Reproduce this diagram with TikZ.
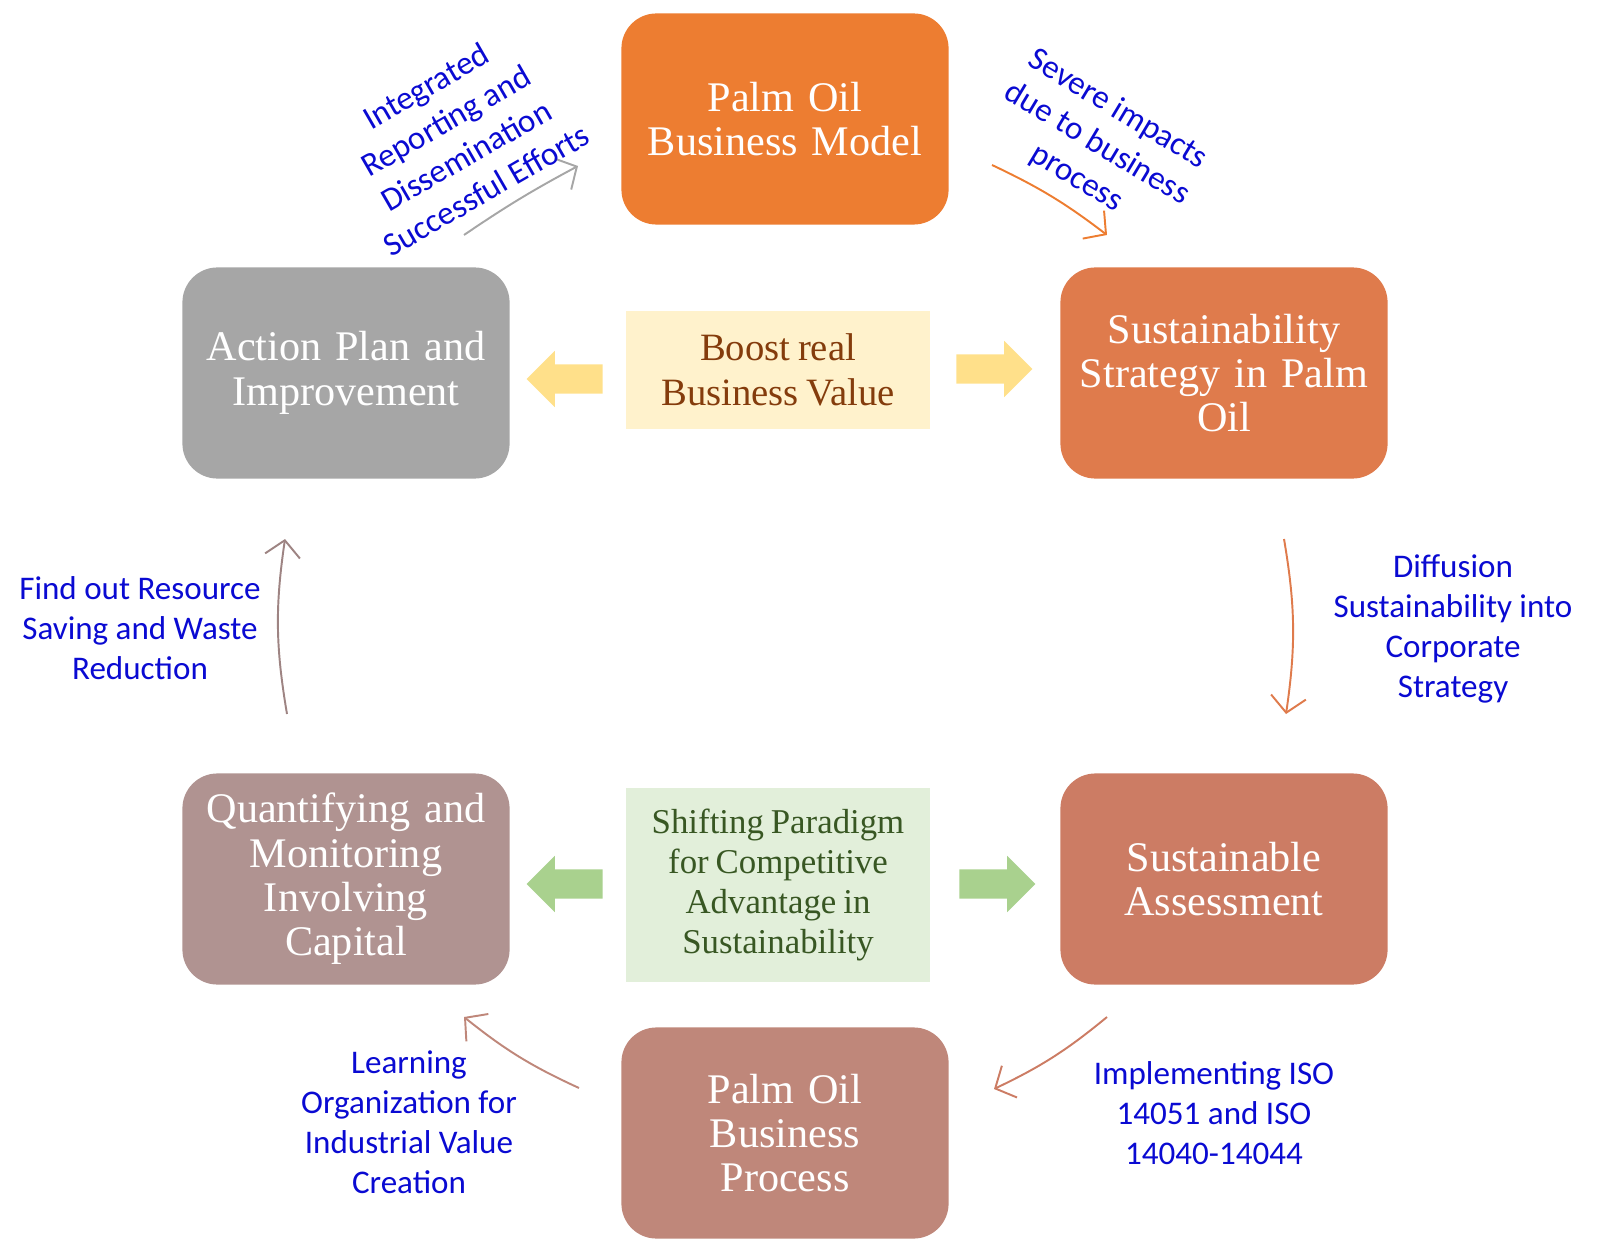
\documentclass[tikz,border=0pt]{standalone}
\usepackage{fontspec}
\setmainfont[WordSpace=0.8]{Liberation Serif}
\newfontfamily\labelfont{Carlito}
\usetikzlibrary{arrows.meta,shapes.arrows}
\definecolor{modelorange}{HTML}{ED7D31}
\definecolor{strategyorange}{HTML}{DF7B4C}
\definecolor{assesscolor}{HTML}{CC7C64}
\definecolor{processcolor}{HTML}{BF877A}
\definecolor{quantcolor}{HTML}{B09391}
\definecolor{actiongray}{HTML}{A6A6A6}
\definecolor{boostfill}{HTML}{FFF2CC}
\definecolor{boosttext}{HTML}{843C0C}
\definecolor{shiftfill}{HTML}{E2EFDA}
\definecolor{shifttext}{HTML}{385723}
\definecolor{fatyellow}{HTML}{FFE08A}
\definecolor{fatgreen}{HTML}{A9D18E}
\definecolor{noteblue}{RGB}{10,10,210}
\begin{document}
\begin{tikzpicture}[x=0.01cm,y=-0.01cm,
    stage/.style={rounded corners=0.35cm, minimum width=3.27cm, minimum height=2.11cm,
      text width=3.1cm, align=center, text=white, inner sep=0pt,
      font=\fontsize{12}{12.6}\selectfont},
    core/.style={minimum width=3.03cm, align=center, inner sep=0pt},
    note/.style={text=noteblue, align=center, inner sep=0pt,
      font=\labelfont\fontsize{9.4}{11.4}\selectfont},
    flow/.style={-{Straight Barb[length=4.5pt,width=10pt]}, line width=0.55pt},
    fat/.style={single arrow, draw=none, minimum height=0.76cm, inner sep=0.14cm,
      single arrow head extend=0.135cm}]
  \useasboundingbox (0,0) rectangle (1600,1258);

  % six stages of the cycle
  \node[stage, fill=modelorange] (model) at (785,119) {Palm Oil\\Business Model};
  \node[stage, fill=strategyorange] (strategy) at (1224,373) {Sustainability\\Strategy in Palm\\Oil};
  \node[stage, fill=assesscolor] (assess) at (1224,879) {Sustainable\\Assessment};
  \node[stage, fill=processcolor] (process) at (785,1133) {Palm Oil\\Business\\Process};
  \node[stage, fill=quantcolor] (quant) at (346,879) {Quantifying and\\Monitoring\\Involving\\Capital};
  \node[stage, fill=actiongray] (action) at (346,373) {Action Plan and\\Improvement};

  % centre boxes
  \node[core, fill=boostfill, text=boosttext, minimum height=1.17cm,
    font=\fontsize{11}{12.8}\selectfont] (boost) at (778,370) {Boost real\\Business Value};
  \node[core, fill=shiftfill, text=shifttext, minimum height=1.93cm,
    font=\fontsize{9.9}{11.4}\selectfont] (shift) at (778,885)
    {Shifting Paradigm\\for Competitive\\Advantage in\\Sustainability};

  \node[fat, fill=fatyellow, shape border rotate=180] (boostleft) at (572,379) {};
  \node[fat, fill=fatyellow] (boostright) at (987,369) {};
  \node[fat, fill=fatgreen, shape border rotate=180] (shiftleft) at (572,884) {};
  \node[fat, fill=fatgreen] (shiftright) at (990,884) {};

  % ends of the thin arrows
  \coordinate (a1) at (464,235);  \coordinate (a2) at (578,166);
  \coordinate (b1) at (992,165);  \coordinate (b2) at (1107,235);
  \coordinate (c1) at (1284,539); \coordinate (c2) at (1286,714);
  \coordinate (d1) at (1107,1017); \coordinate (d2) at (994,1089);
  \coordinate (e1) at (579,1088); \coordinate (e2) at (464,1017);
  \coordinate (f1) at (287,714);  \coordinate (f2) at (285,539);

  \draw[flow, actiongray] (a1) to[bend left=3] (a2);
  \draw[flow, modelorange] (b1) to[bend left=6] (b2);
  \draw[flow, strategyorange] (c1) to[bend left=9] (c2);
  \draw[flow, assesscolor] (d1) to[bend left=7] (d2);
  \draw[flow, processcolor] (e1) to[bend left=7] (e2);
  \draw[flow, quantcolor!90!black] (f1) to[bend left=9] (f2);

  % labels
  \node[note, rotate=30] (integrated) at (456,138)
    {Integrated\\Reporting and\\Dissemination\\Successful Efforts};
  \node[note, rotate=-31] (severe) at (1097,144)
    {Severe impacts\\due to business\\process};
  \node[note] (diffusion) at (1453,629)
    {Diffusion\\Sustainability into\\Corporate\\Strategy};
  \node[note] (iso) at (1214,1113)
    {Implementing ISO\\14051 and ISO\\14040-14044};
  \node[note] (learning) at (409,1122)
    {Learning\\Organization for\\Industrial Value\\Creation};
  \node[note] (findout) at (140,628)
    {Find out Resource\\Saving and Waste\\Reduction};
\end{tikzpicture}
\end{document}
